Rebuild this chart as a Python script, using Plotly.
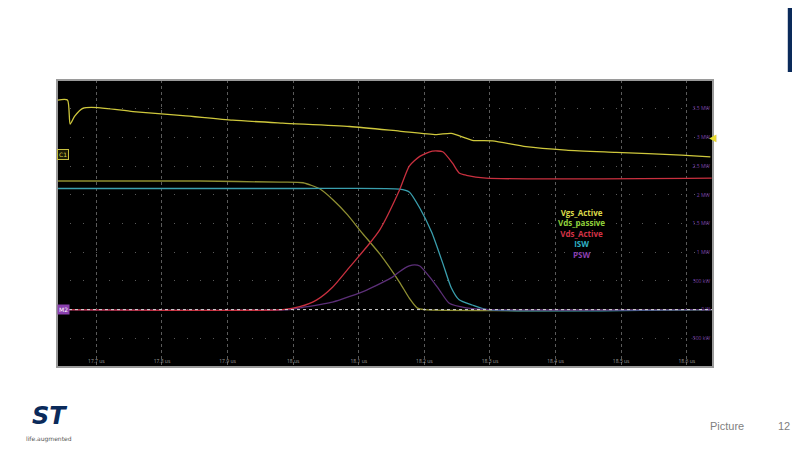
import plotly.graph_objects as go

# oscilloscope capture: time in microseconds, amplitude in screen units (0.5 per division)
vgs_t = [17.641, 17.656, 17.660, 17.667, 17.680, 17.702, 17.756, 17.832, 17.908, 17.984,
         18.086, 18.162, 18.218, 18.241, 18.273, 18.304, 18.355, 18.416, 18.492, 18.592, 18.636]
vgs_v = [3.65, 3.65, 3.23, 3.37, 3.51, 3.52, 3.45, 3.38, 3.30, 3.25,
         3.19, 3.11, 3.05, 3.07, 2.95, 2.94, 2.84, 2.78, 2.74, 2.69, 2.66]

vdsp_t = [17.641, 17.858, 17.980, 18.015, 18.041, 18.061, 18.083, 18.104, 18.132, 18.162,
          18.177, 18.189, 18.200, 18.638]
vdsp_v = [2.24, 2.24, 2.22, 2.21, 2.10, 1.91, 1.65, 1.35, 0.97, 0.48,
          0.20, 0.03, 0.0, 0.0]

vdsa_t = [17.641, 17.984, 18.010, 18.036, 18.060, 18.086, 18.112, 18.132, 18.162, 18.177,
          18.193, 18.212, 18.228, 18.243, 18.253, 18.264, 18.294, 18.638]
vdsa_v = [0.0, 0.0, 0.05, 0.17, 0.39, 0.74, 1.09, 1.39, 2.08, 2.50,
          2.67, 2.76, 2.75, 2.55, 2.38, 2.34, 2.29, 2.29]

isw_t = [17.641, 18.010, 18.162, 18.177, 18.193, 18.211, 18.228, 18.241, 18.253, 18.273,
         18.296, 18.638]
isw_v = [2.11, 2.11, 2.10, 2.05, 1.77, 1.35, 0.81, 0.38, 0.17, 0.08,
         0.0, 0.0]

psw_t = [17.641, 17.995, 18.010, 18.060, 18.112, 18.152, 18.162, 18.177, 18.185, 18.193,
         18.208, 18.223, 18.238, 18.264, 18.299, 18.638]
psw_v = [0.0, 0.0, 0.03, 0.13, 0.34, 0.57, 0.66, 0.76, 0.78, 0.76,
         0.57, 0.34, 0.11, 0.03, 0.0, 0.0]

names = ["Vgs_Active", "Vds_passive", "Vds_Active", "ISW", "PSW"]
line_colors = ["#cfc83c", "#8f8f32", "#c9303f", "#3a9fae", "#5c2f78"]
label_colors = ["#d8d84a", "#8fd03a", "#d23246", "#2fb0c4", "#8a3fae"]

x_ticks = [17.7, 17.8, 17.9, 18.0, 18.1, 18.2, 18.3, 18.4, 18.5, 18.6]
x_labels = ["17.7 us", "17.8 us", "17.9 us", "18 us", "18.1 us", "18.2 us",
            "18.3 us", "18.4 us", "18.5 us", "18.6 us"]
y_ticks = [-0.5, 0, 0.5, 1, 1.5, 2, 2.5, 3, 3.5]
y_labels = ["-500 kW", "0 W", "500 kW", "1 MW", "1.5 MW", "2 MW", "2.5 MW", "3 MW", "3.5 MW"]

series = {
    "Vgs_Active": (vgs_t, vgs_v),
    "Vds_passive": (vdsp_t, vdsp_v),
    "Vds_Active": (vdsa_t, vdsa_v),
    "ISW": (isw_t, isw_v),
    "PSW": (psw_t, psw_v),
}

fig = go.Figure()

# zero reference (M2)
fig.add_hline(y=0, line=dict(color="#d8d8d8", width=1, dash="3px,3px"))

for name in ["Vds_passive", "ISW", "PSW", "Vds_Active", "Vgs_Active"]:
    t, v = series[name]
    c = line_colors[names.index(name)]
    fig.add_trace(go.Scatter(x=t, y=v, mode="lines", name=name,
                             line=dict(color=c, width=1.3, shape="spline", smoothing=0.6)))

# text legend, one block of coloured lines
leg_text = "<br>".join(f"<span style='color:{c}'><b>{n}</b></span>"
                       for n, c in zip(names, label_colors))
fig.add_annotation(x=18.44, y=1.33, text=leg_text, showarrow=False, align="center",
                   font=dict(family="Open Sans", size=8))

# channel badges
fig.add_annotation(x=0, xref="paper", y=2.71, text="C1", showarrow=False, xanchor="left",
                   font=dict(family="DejaVu Sans", size=6, color="#d8d04a"),
                   bgcolor="#1a1a05", bordercolor="#c8c040", borderwidth=1, borderpad=1)
fig.add_annotation(x=0, xref="paper", y=0, text="M2", showarrow=False, xanchor="left",
                   font=dict(family="DejaVu Sans", size=6, color="white"),
                   bgcolor="#8a3fae", borderpad=1)
fig.add_annotation(x=1, xref="paper", y=3.0, text="◀", showarrow=False, xanchor="center",
                   font=dict(size=10, color="#e8d830"))

# slide decoration
fig.add_shape(type="rect", xref="paper", yref="paper", x0=0, x1=1, y0=0, y1=1,
              line=dict(color="#9a9a9a", width=2))
fig.add_shape(type="rect", xref="paper", yref="paper", x0=1.114, x1=1.16, y0=1.028, y1=1.3,
              line=dict(width=0), fillcolor="#0a2a5a")
fig.add_annotation(x=1.021, xref="paper", y=-0.206, yref="paper", text="Picture",
                   xanchor="center", yanchor="middle", showarrow=False,
                   font=dict(family="Liberation Sans", size=11, color="#7f7f7f"))
fig.add_annotation(x=1.108, xref="paper", y=-0.206, yref="paper", text="12",
                   xanchor="center", yanchor="middle", showarrow=False,
                   font=dict(family="Liberation Sans", size=11, color="#7f7f7f"))
fig.add_annotation(x=-0.012, xref="paper", y=-0.172, yref="paper", text="<b><i>ST</i></b>",
                   xanchor="center", yanchor="middle", showarrow=False,
                   font=dict(family="DejaVu Sans", size=24, color="#0a2a5a"))
fig.add_annotation(x=-0.012, xref="paper", y=-0.25, yref="paper", text="life.augmented",
                   xanchor="center", yanchor="middle", showarrow=False,
                   font=dict(family="DejaVu Sans", size=6, color="#555555"))

fig.update_xaxes(range=[17.64, 18.64], tickvals=x_ticks, ticktext=x_labels,
                 ticklabelposition="inside", tickfont=dict(size=5, color="#9a9a9a"),
                 showgrid=True, gridcolor="#5a5a5a", griddash="dot", gridwidth=1,
                 zeroline=False, showline=False, ticks="")
fig.update_yaxes(range=[-1, 4], tickvals=y_ticks, ticktext=y_labels, side="right",
                 ticklabelposition="inside", tickfont=dict(size=5, color="#7a40a8"),
                 showgrid=True, gridcolor="#5a5a5a", griddash="1px,12px", gridwidth=1,
                 zeroline=False, showline=False, ticks="")

# the page body adds an 8px offset, so the figure is trimmed and margins shifted
# to land the scope screen at 57..713 x 80..367
fig.update_layout(width=792, height=442, margin=dict(l=49, r=87, t=72, b=83),
                  paper_bgcolor="white", plot_bgcolor="black", showlegend=False)

fig.write_html("out.html")
